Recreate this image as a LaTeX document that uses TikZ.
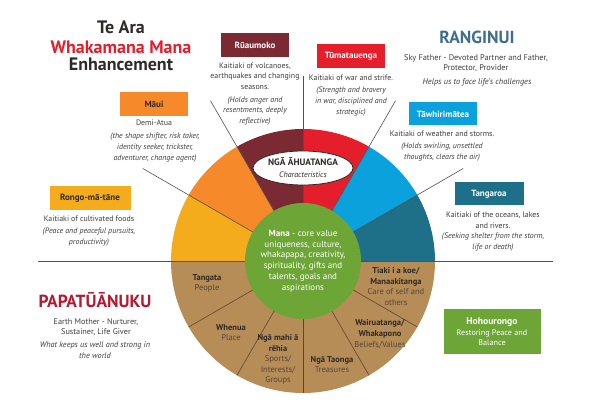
\documentclass[tikz,border=0pt]{standalone}
\usepackage{fontspec}
\setmainfont{PT Sans}
\usetikzlibrary{positioning,calc,shapes.geometric}
\definecolor{txtgray}{HTML}{3C3C3C}
\definecolor{txtdark}{HTML}{2E2A26}
\definecolor{subbrown}{HTML}{54463A}
\definecolor{rongoyel}{HTML}{F4AB1C}
\definecolor{mauiorg}{HTML}{F6892A}
\definecolor{ruaured}{HTML}{7B2A33}
\definecolor{tumared}{HTML}{E41E2B}
\definecolor{tawhiblue}{HTML}{0AA1DD}
\definecolor{tangateal}{HTML}{1E7088}
\definecolor{earthtan}{HTML}{B68C57}
\definecolor{spokebrown}{HTML}{5B4630}
\definecolor{managreen}{HTML}{6DA536}
\definecolor{rangiblue}{HTML}{3F6D8E}
\definecolor{papared}{HTML}{B5192F}
\definecolor{leadgray}{HTML}{505050}

\tikzset{
  godbox/.style={minimum width=68pt, minimum height=24pt, inner sep=0pt, font=\fontsize{9}{11}\selectfont\bfseries},
  body/.style={align=center, text=txtgray, inner sep=0pt, font=\fontsize{7.9}{10.6}\selectfont},
  note/.style={body, font=\fontsize{7.9}{10.6}\selectfont\itshape},
  realm/.style={inner sep=0pt, font=\fontsize{17.5}{19}\selectfont\bfseries},
  headline/.style={inner sep=0pt, text=txtdark, font=\fontsize{18}{20}\selectfont\bfseries},
  sector/.style={align=center, text=txtdark, inner sep=0pt, font=\fontsize{8.5}{10.6}\selectfont},
  leader/.style={draw=leadgray, line width=0.6pt},
  spoke/.style={draw=spokebrown, line width=0.6pt},
}

\begin{document}
\begin{tikzpicture}[x=1pt,y=1pt]
  \useasboundingbox (0,0) rectangle (592,420);
  \coordinate (C) at (303,159);
  \coordinate (west) at (38,159); \coordinate (east) at (553,159);
  % upper half: six atua, lower half: papatuanuku
  \fill[earthtan] (C) -- ++(180:132) arc[start angle=180, end angle=360, radius=132] -- cycle;
  \foreach \a/\c in {150/rongoyel,120/mauiorg,90/ruaured,60/tumared,30/tawhiblue,0/tangateal}
    \fill[\c] (C) -- ++(\a:132) arc[start angle=\a, end angle=\a+30, radius=132] -- cycle;
  \foreach \a in {30,60,...,150} \draw[leader] (C) -- ++(\a:185);
  \foreach \a in {-30,-60,...,-150} \draw[spoke] (C) -- ++(\a:132);
  \draw[leader] (west) -- (east);
  \node[circle, fill=managreen, minimum size=116pt, inner sep=0pt, align=center, text=white,
        font=\fontsize{9}{10.8}\selectfont] (mana) at (C)
        {\textbf{Mana} - core value\\uniqueness, culture,\\whakapapa, creativity,\\spirituality, gifts and\\talents, goals and\\aspirations};
  \node[ellipse, draw=txtdark, line width=0.8pt, fill=white, minimum width=100pt, minimum height=34pt,
        inner sep=0pt, align=center, text=txtdark, font=\fontsize{8}{12}\selectfont] (ahua) at (303,252)
        {\fontsize{9.3}{12}\selectfont\textbf{NGĀ ĀHUATANGA}\\\textit{Characteristics}};

  % title
  \node[headline] (teara) at (121,393) {Te Ara};
  \node[headline, text=tumared] (whaka) at (121,373) {Whakamana Mana};
  \node[headline] (enh) at (121,356) {Enhancement};

  % atua boxes and texts
  \node[godbox, fill=mauiorg, text=txtdark] (maui) at (154,316) {Māui};
  \node[body] (mauiA) at (154,297) {Demi-Atua};
  \node[note] (mauiB) at (155,272.5) {(the shape shifter, risk taker,\\identity seeker, trickster,\\adventurer, change agent)};

  \node[godbox, fill=rongoyel, text=txtdark, minimum width=81pt] (rongo) at (90,222) {Rongo-mā-tāne};
  \node[body] (rongoA) at (89,201) {Kaitiaki of cultivated foods};
  \node[note] (rongoB) at (89,183) {(Peace and peaceful pursuits,\\productivity)};

  \node[godbox, fill=ruaured, text=white] (ruau) at (255,375) {Rūaumoko};
  \node[body] (ruauA) at (255,344) {Kaitiaki of volcanoes,\\earthquakes and changing\\seasons.};
  \node[note] (ruauB) at (255,309) {(Holds anger and\\resentments, deeply\\reflective)};

  \node[godbox, fill=tumared, text=white] (tuma) at (351,364) {Tūmatauenga};
  \node[body] (tumaA) at (351,342) {Kaitiaki of war and strife.};
  \node[note] (tumaB) at (351,318.5) {(Strength and bravery\\in war, disciplined and\\strategic)};

  \node[godbox, fill=tawhiblue, text=white, minimum height=23pt] (tawhi) at (443,306) {Tāwhirimātea};
  \node[body] (tawhiA) at (442,286) {Kaitiaki of weather and storms.};
  \node[note] (tawhiB) at (442,268) {(Holds swirling, unsettled\\thoughts, clears the air)};

  \node[godbox, fill=tangateal, text=white, minimum width=69pt, minimum height=23pt] (tanga) at (489,226) {Tangaroa};
  \node[body] (tangaA) at (493,200) {Kaitiaki of the oceans, lakes\\and rivers.};
  \node[note] (tangaB) at (493,178) {(Seeking shelter from the storm,\\life or death)};

  % ranginui / papatuanuku
  \node[realm, text=rangiblue] (rangi) at (477,383) {RANGINUI};
  \node[body, font=\fontsize{8.3}{10.4}\selectfont] (rangiA) at (476,357) {Sky Father - Devoted Partner and Father,\\Protector, Provider};
  \node[note, font=\fontsize{8.3}{10.4}\selectfont\itshape] (rangiB) at (477,338) {Helps us to face life's challenges};
  \node[realm, text=papared] (papa) at (95,120) {PAPATŪĀNUKU};
  \node[body, font=\fontsize{8.2}{10.4}\selectfont] (papaA) at (96,93) {Earth Mother - Nurturer,\\Sustainer, Life Giver};
  \node[note, font=\fontsize{8.2}{11}\selectfont\itshape] (papaB) at (95,69.5) {What keeps us well and strong in\\the world};
  \node[fill=managreen, text=white, minimum width=97pt, minimum height=45pt, inner sep=0pt, align=center,
        font=\fontsize{8.2}{10.5}\selectfont] (hoho) at (492,88) {{\fontsize{9.6}{12}\selectfont\textbf{Hohourongo}}\\Restoring Peace and\\Balance};

  % lower sectors
  \node[sector] (tangata) at (207,136.5) {\textbf{Tangata}\\\textcolor{subbrown}{People}};
  \node[sector] (whenua) at (231,87.5) {\textbf{Whenua}\\\textcolor{subbrown}{Place}};
  \node[sector] (rehia) at (278,60.5) {\textbf{Ngā mahi ā}\\\textbf{rēhia}\\\textcolor{subbrown}{Sports/}\\\textcolor{subbrown}{Interests/}\\\textcolor{subbrown}{Groups}};
  \node[sector] (taonga) at (332,55.5) {\textbf{Ngā Taonga}\\\textcolor{subbrown}{Treasures}};
  \node[sector] (wairua) at (380,86) {\textbf{Wairuatanga/}\\\textbf{Whakapono}\\\textcolor{subbrown}{Beliefs/Values}};
  \node[sector] (tiaki) at (396,133.5) {\textbf{Tiaki i a koe/}\\\textbf{Manaakitanga}\\\textcolor{subbrown}{Care of self and}\\\textcolor{subbrown}{others}};
\end{tikzpicture}
\end{document}
